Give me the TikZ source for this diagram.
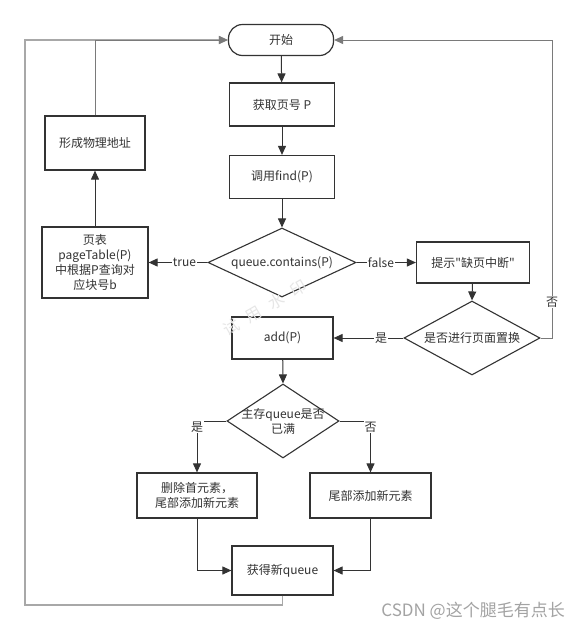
\documentclass[tikz,border=0pt]{standalone}
\usepackage{fontspec}
\setmainfont{Noto Sans CJK SC}
\newfontfamily\plainq{Noto Sans CJK SC}
\usetikzlibrary{arrows.meta,shapes.geometric}
\definecolor{ink}{HTML}{333333}
\definecolor{loopc}{HTML}{7A7A7A}
\definecolor{outerc}{HTML}{A8A8A8}
\definecolor{wm}{HTML}{A3A3A3}
\definecolor{wm2}{HTML}{E6E6E6}
\begin{document}
\begin{tikzpicture}[x=1pt,y=-1pt,
  every node/.style={font=\fontsize{12}{15}\selectfont, text=ink},
  box/.style={draw=ink, line width=1.2pt, fill=white, align=center, inner sep=0pt},
  startbox/.style={box, rounded corners=14pt},
  dia/.style={draw=ink, line width=1.1pt, fill=white, diamond, inner sep=0pt},
  arr/.style={draw=ink, line width=1pt, -{Triangle[length=9pt,width=8pt]}},
  garr/.style={draw=loopc, line width=1pt, -{Triangle[length=9pt,width=8pt]}},
  oarr/.style={draw=outerc, line width=1.2pt, -{Triangle[length=9pt,width=8pt,fill=loopc]}},
  lbl/.style={fill=white, inner sep=1pt}
]
\useasboundingbox (0,0) rectangle (577,630);
\fill[white] (0,0) rectangle (577,630);

% nodes
\node[startbox, minimum width=105pt, minimum height=31pt] (start) at (281,40) {开始};
\node[box, minimum width=105pt, minimum height=43pt] (p1) at (282,104.5) {获取页号 P};
\node[box, minimum width=105pt, minimum height=43pt] (p2) at (282,177) {调用find(P)};
\node[dia, minimum width=148pt, minimum height=69pt] (d1) at (282,262.5) {};
\node (d1t) at (d1) {queue.contains(P)};
\node[box, minimum width=106pt, minimum height=71pt] (tbl) at (95,262.5) {页表\\pageTable(P)\\中根据P查询对\\应块号b};
\node[box, minimum width=100pt, minimum height=54pt] (phys) at (95,143) {形成物理地址};
\node[box, minimum width=113pt, minimum height=41pt] (hint) at (473,262.5) {提示{\plainq"}缺页中断{\plainq"}};
\node[dia, minimum width=136pt, minimum height=74pt] (d2) at (472,338) {};
\node (d2t) at (d2) {是否进行页面置换};
\node[box, minimum width=101pt, minimum height=42pt] (add) at (282.5,338) {add(P)};
\node[dia, minimum width=112pt, minimum height=74pt] (d3) at (283,421) {};
\node[align=center, inner sep=0pt] (d3t) at (283,421) {主存queue是否\\已满};
\node[box, minimum width=120pt, minimum height=45pt] (del) at (197,495.5) {删除首元素，\\尾部添加新元素};
\node[box, minimum width=121pt, minimum height=45pt] (tail) at (370.5,495.5) {尾部添加新元素};
\node[box, minimum width=101pt, minimum height=49pt] (newq) at (282.5,570.5) {获得新queue};

% free-end coordinates
\coordinate (rtop) at (552,40);
\coordinate (bl) at (25,605);
\coordinate (tl) at (25,40);

% outer loop (drawn first)
\draw[oarr] (newq.south) |- (bl) -- (tl) -- (start.west);
\draw[garr] (phys.north) |- (start.west);
\draw[garr] (d2.east) -| node[lbl, pos=0.56]{否} (rtop) -- (start.east);

% main flow
\draw[arr] (start) -- (p1);
\draw[arr] (p1) -- (p2);
\draw[arr] (p2) -- (d1.north);
\draw[arr] (d1.west) -- node[lbl, pos=0.39]{true} (tbl.east);
\draw[arr] (d1.east) -- node[lbl, pos=0.41]{false} (hint.west);
\draw[arr] (tbl) -- (phys);
\draw[arr] (hint) -- (d2.north);
\draw[arr] (d2.west) -- node[lbl, pos=0.32]{是} (add.east);
\draw[arr] (add) -- (d3.north);
\draw[arr] (d3.west) -| node[lbl, pos=0.56]{是} (del.north);
\draw[arr] (d3.east) -| node[lbl, pos=0.56]{否} (tail.north);
\draw[arr] (del.south) |- (newq.west);
\draw[arr] (tail.south) |- (newq.east);

% faint trial watermark, on top
\node[text=wm2, rotate=30, inner sep=0pt, font=\fontsize{16}{16}\selectfont] (wmark) at (265,308) {试\hspace{10pt}用\hspace{10pt}水\hspace{10pt}印};

% CSDN watermark
\node[text=wm, anchor=east, font=\fontsize{17}{17}\selectfont, inner sep=0pt] (csdn) at (565,611) {CSDN @这个腿毛有点长};
\end{tikzpicture}
\end{document}
